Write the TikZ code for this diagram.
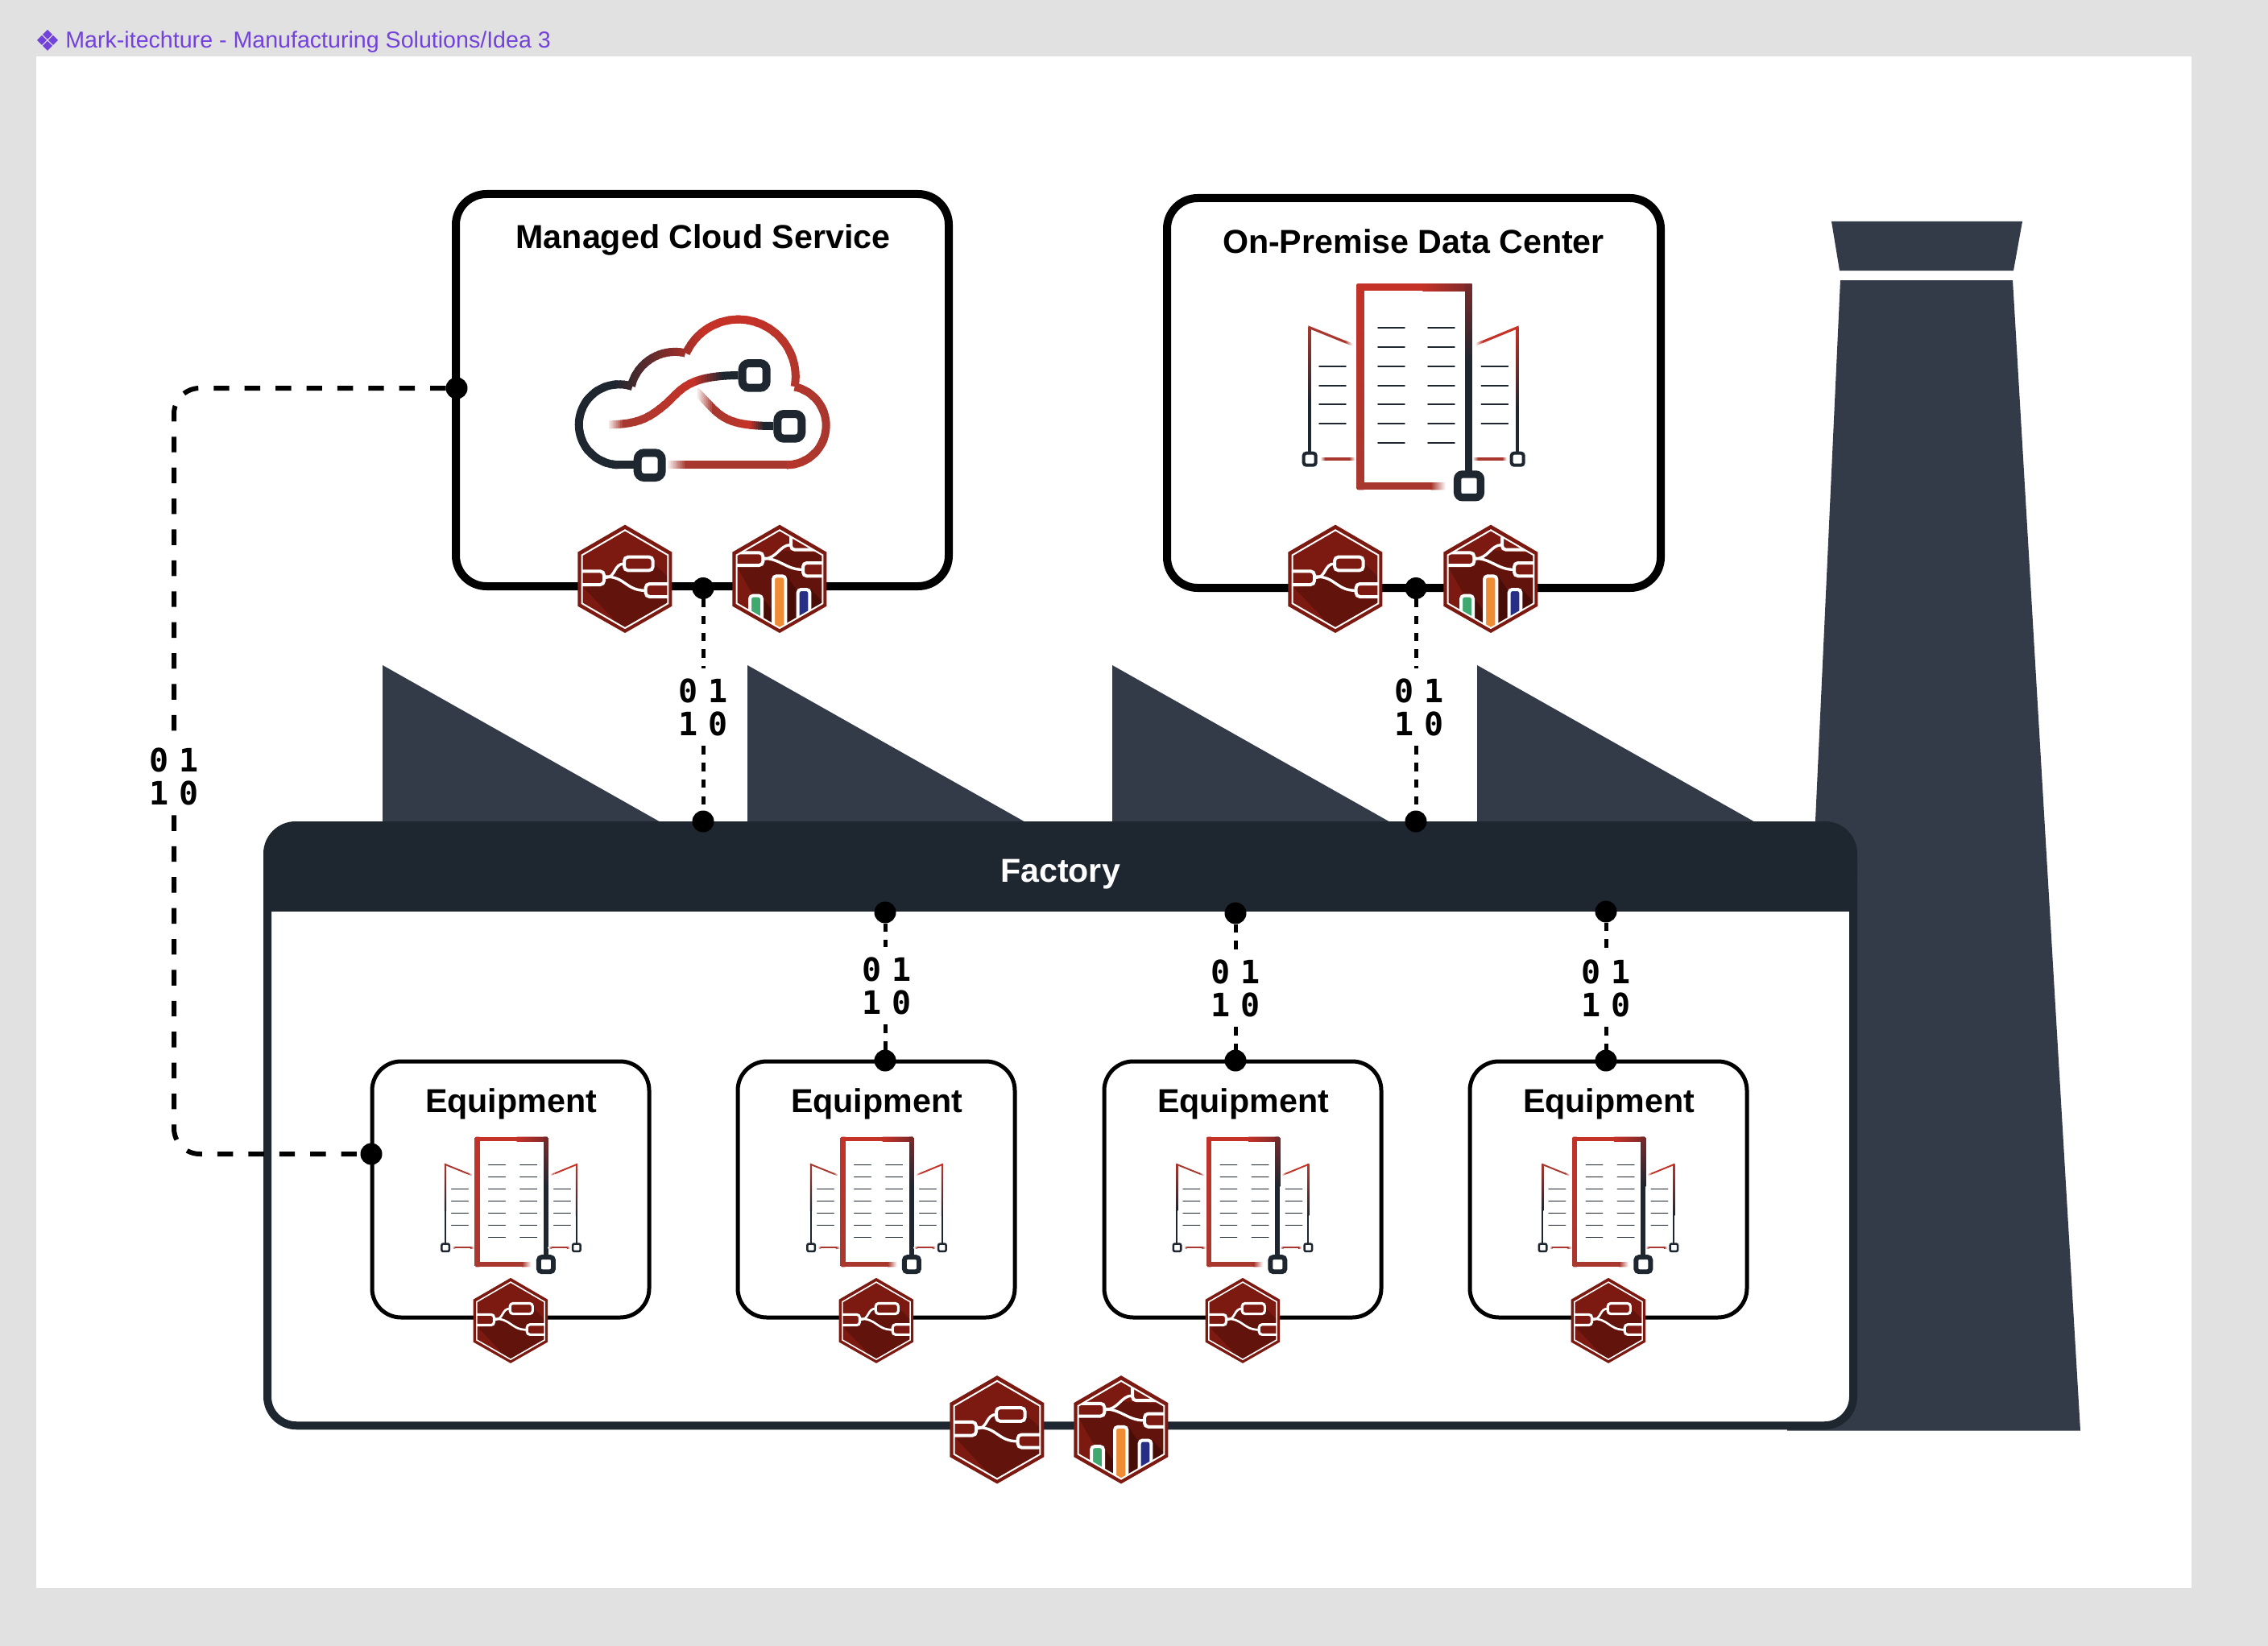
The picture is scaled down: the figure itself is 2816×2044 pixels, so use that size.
\documentclass[tikz,border=0pt]{standalone}
\usepackage{fontspec}
\setmainfont{Liberation Sans}
\newfontfamily\bitfont{DejaVu Sans Mono}[WordSpace=0.57]
\usetikzlibrary{positioning,calc}

\definecolor{canvasgrey}{HTML}{E1E1E1}
\definecolor{titlepurple}{HTML}{7342DB}
\definecolor{slate}{HTML}{333A48}
\definecolor{ink}{HTML}{1E2630}
\definecolor{iconred}{HTML}{C43228}
\definecolor{iconbrick}{HTML}{A8382F}
\definecolor{iconmaroon}{HTML}{7A2A2B}
\definecolor{hexred}{HTML}{7C1A11}
\definecolor{hexdark}{HTML}{62130C}
\definecolor{hexdeep}{HTML}{470D06}
\definecolor{bargreen}{HTML}{3FA96F}
\definecolor{barorange}{HTML}{EE8D35}
\definecolor{barblue}{HTML}{262E85}

\tikzset{
  box/.style={draw=black, fill=white, inner sep=0pt, outer sep=0pt},
  bigbox/.style={box, line width=5pt, rounded corners=19pt},
  smallbox/.style={box, line width=2.5pt, rounded corners=18pt, minimum width=172pt, minimum height=159pt},
  title/.style={font=\fontsize{20.6pt}{24pt}\selectfont\bfseries, inner sep=0pt},
  bits/.style={font=\fontsize{20pt}{20.5pt}\selectfont\bitfont\bfseries, align=center, inner sep=0pt, minimum height=48pt},
  dot/.style={circle, fill=black, inner sep=0pt, minimum size=13.5pt, outer sep=0pt},
  wire/.style={draw=black, line width=2.5pt, dash pattern=on 5.2pt off 5.2pt},
  longwire/.style={draw=black, line width=3pt, dash pattern=on 9.7pt off 9.5pt, rounded corners=16pt},
}

% server icon, coordinates in 1/3 px from its top left corner
\newcommand\servericon[3]{%
\begin{scope}[shift={(#1,#2)}, x=#3*0.16667pt, y=-#3*0.16667pt]
  \begin{scope}
    \clip[rounded corners=#3*1.3pt] (252,36) rectangle (686,805);
    \shade[top color=iconred, bottom color=iconbrick] (252,36) rectangle (280,805);
    \fill[iconred] (252,36) rectangle (500,64);
    \shade[left color=iconred, right color=iconmaroon] (499,36) rectangle (686,64);
    \shade[top color=iconmaroon, bottom color=ink] (658,36) rectangle (686,331);
    \fill[ink] (658,330) rectangle (686,760);
    \fill[iconbrick] (279,777) rectangle (531,805);
    \shade[left color=iconbrick, right color=white] (530,777) rectangle (585,805);
  \end{scope}
  \shade[top color=iconbrick, bottom color=ink] (73,198) rectangle (83,471);
  \fill[ink] (73,470) rectangle (83,670);
  \shade[top color=iconred, bottom color=ink] (847,198) rectangle (857,501);
  \fill[ink] (847,500) rectangle (857,670);
  \fill[iconbrick] (73,193) -- (211,249) -- (211,259) -- (73,203) -- cycle;
  \shade[left color=iconbrick, right color=white] (210,248) -- (237,259) -- (237,269) -- (210,258) -- cycle;
  \fill[iconred] (857,193) -- (721,249) -- (721,259) -- (857,203) -- cycle;
  \shade[left color=white, right color=iconred] (695,259) -- (722,248) -- (722,258) -- (695,269) -- cycle;
  \shade[left color=white, right color=iconbrick] (118,685) rectangle (136,695);
  \fill[iconbrick] (135,685) rectangle (226,695);
  \shade[left color=iconbrick, right color=white] (225,685) rectangle (247,695);
  \shade[left color=white, right color=iconbrick] (685,685) rectangle (706,695);
  \fill[iconbrick] (705,685) rectangle (796,695);
  \shade[left color=iconbrick, right color=white] (795,685) rectangle (812,695);
  \foreach \yy in {201,273,345,416,487,558,629} {
    \draw[ink, line width=#3*0.85pt, line cap=round] (333,\yy) -- (432,\yy) (519,\yy) -- (618,\yy);
  }
  \foreach \yy in {345,416,487,558} {
    \draw[ink, line width=#3*0.85pt, line cap=round] (114,\yy) -- (213,\yy) (718,\yy) -- (817,\yy);
  }
  \draw[ink, fill=white, line width=#3*2pt, rounded corners=#3*1.6pt] (56,668) rectangle (101,713);
  \draw[ink, fill=white, line width=#3*2pt, rounded corners=#3*1.6pt] (830,668) rectangle (875,713);
  \draw[ink, fill=white, line width=#3*4.7pt, rounded corners=#3*3pt] (629,747) rectangle (715,833);
\end{scope}}

% hexagon outline shared by both badges, coordinates in 1/3 px from its centre
\newcommand\hexouter{(0,-202) -- (175,-100) -- (175,101) -- (0,201) -- (-176,101) -- (-176,-100) -- cycle}
\newcommand\hexinner{(0,-182) -- (160,-89) -- (160,91) -- (0,183) -- (-160,91) -- (-160,-89) -- cycle}

\newcommand\hexflow[3]{%
\begin{scope}[shift={(#1,#2)}, x=#3*0.16667pt, y=-#3*0.16667pt]
  \fill[hexred] \hexouter;
  \begin{scope}
    \clip \hexinner;
    \fill[hexdark] (-78,3) -- (-58,-17) -- (-3,-62) -- (104,-62) -- (160,-7) -- (160,91) -- (0,183) -- (-23,170) -- (-153,33) -- (-78,20) -- cycle;
    \draw[white, line width=#3*1.7pt] (-73,-5) .. controls (-33,-5) and (-43,-57) .. (-3,-57);
    \draw[white, line width=#3*1.7pt] (-73,-9) .. controls (2,-9) and (2,43) .. (77,43);
    \draw[white, fill=hexred, line width=#3*2pt, rounded corners=#3*2.4pt] (-175,-29) rectangle (-78,21);
    \draw[white, fill=hexred, line width=#3*2pt, rounded corners=#3*2.4pt] (-3,-82) rectangle (104,-32);
    \draw[white, fill=hexred, line width=#3*2pt, rounded corners=#3*2.4pt] (77,18) rectangle (175,66);
  \end{scope}
  \draw[white, line width=#3*1pt] \hexinner;
\end{scope}}

\newcommand\hexdash[3]{%
\begin{scope}[shift={(#1,#2)}, x=#3*0.16667pt, y=-#3*0.16667pt]
  \fill[hexred] \hexouter;
  \begin{scope}
    \clip \hexinner;
    \fill[hexdark] (-160,-47) -- (-60,-47) -- (-55,-67) -- (0,-107) -- (160,-95) -- (160,91) -- (0,183) -- (-40,163) -- cycle;
    \fill[hexdeep] (-60,75) -- (-30,115) -- (-30,175) -- (-60,160) -- cycle;
    \fill[hexdeep] (28,-10) -- (62,40) -- (62,155) -- (28,180) -- cycle;
    \fill[hexdeep] (118,40) -- (165,92) -- (118,120) -- cycle;
    \draw[white, line width=#3*1.7pt] (-60,-75) .. controls (-10,-75) and (0,-127) .. (40,-127);
    \draw[white, line width=#3*1.7pt] (-60,-77) .. controls (0,-77) and (25,-35) .. (85,-35);
    \draw[white, fill=hexred, line width=#3*2pt, rounded corners=#3*2.4pt] (-175,-98) rectangle (-62,-51);
    \draw[white, fill=hexred, line width=#3*2pt, rounded corners=#3*2.4pt] (42,-170) rectangle (175,-109);
    \draw[white, fill=hexred, line width=#3*2pt, rounded corners=#3*2.4pt] (87,-60) rectangle (175,-11);
    \draw[white, fill=bargreen, line width=#3*2pt, rounded corners=#3*2pt] (-111,62) rectangle (-66,220);
    \draw[white, fill=barorange, line width=#3*2pt, rounded corners=#3*2pt] (-24,-11) rectangle (22,220);
    \draw[white, fill=barblue, line width=#3*2pt, rounded corners=#3*2pt] (68,39) rectangle (112,220);
  \end{scope}
  \draw[white, line width=#3*1pt] \hexinner;
\end{scope}}

% stroke whose colour runs left to right, built from clipped bands
\newcommand\bandstroke[6]{%
  \foreach \ii in {0,...,#3} {
    \pgfmathsetmacro\mixp{100*\ii/#3}
    \pgfmathsetmacro\bandl{#1+(#2-#1)*\ii/(#3+1)}
    \pgfmathsetmacro\bandr{#1+(#2-#1)*(\ii+1.4)/(#3+1)}
    \colorlet{bandcol}{#5!\mixp!#4}
    \begin{scope}
      \clip (\bandl,0) rectangle (\bandr,1000);
      \draw[bandcol, line width=5pt, line cap=butt] #6;
    \end{scope}
  }}

\newcommand\cloudline{(950,742) arc[start angle=90, end angle=-78, radius=147]
  (980,450) arc[start angle=10, end angle=-156, radius=213]
  (572,325) arc[start angle=-77, end angle=-166, radius=168]
  (375,450) arc[start angle=-71, end angle=-270, radius=150]}
\newcommand\flowA{(280,592) .. controls (400,592) and (440,565) .. (500,515) .. controls (560,460) and (580,410) .. (770,408)}
\newcommand\flowB{(610,465) .. controls (700,550) and (700,597) .. (900,597)}

\begin{document}
\begin{tikzpicture}[x=0.5pt, y=-0.5pt]
  \useasboundingbox (0,0) rectangle (2816,2044);
  \fill[canvasgrey] (0,0) rectangle (2816,2044);
  \fill[white] (45,70) rectangle (2721,1972);

  % Header
  \node[anchor=west, inner sep=0pt, text=titlepurple, font=\fontsize{14.3pt}{17pt}\selectfont] (frametitle) at (81,52) {Mark-itechture - Manufacturing Solutions/Idea 3};
  \foreach \dx/\dy in {-7/0,7/0,0/-7,0/7} {
    \fill[titlepurple] ($(59,50)+(\dx,\dy)$) ++(-6,0) -- ++(6,-6) -- ++(6,6) -- ++(-6,6) -- cycle;
  }

  % Factory building
  \fill[slate] (2274,275) -- (2511,275) -- (2500,336) -- (2284,336) -- cycle;
  \fill[slate] (2285,348) -- (2499,348) -- (2583,1776.5) -- (2219,1776.5) -- cycle;
  \foreach \xx in {475,928,1381,1834} {
    \fill[slate] (\xx,826) -- (\xx,1022) -- ($(\xx,1022)+(347,0)$) -- cycle;
  }
  \node[draw=ink, fill=white, line width=5pt, rounded corners=18pt, minimum width=984.5pt, minimum height=365pt, inner sep=0pt, outer sep=0pt] (factory) at (1316.5,1405.25) {};
  \fill[ink, rounded corners=20pt] (327,1131) -- (327,1020) -- (2306,1020) -- (2306,1131) -- cycle;
  \fill[ink] (327,1100) rectangle (2306,1131.5);
  \node[title, text=white] (factorylabel) at (1316.5,1086) {Factory};

  % Upper boxes
  \node[bigbox, minimum width=306pt, minimum height=243.5pt] (cloudbox) at (872,484.5) {};
  \node[bigbox, minimum width=306.5pt, minimum height=242pt] (onprembox) at (1755.5,488) {};
  \node[title] (cloudlabel) at (873,298) {Managed Cloud Service};
  \node[title] (onpremlabel) at (1755,300) {On-Premise Data Center};

  % Equipment boxes
  \foreach \nn/\xx in {1/634,2/1088,3/1543,4/1997} {
    \node[smallbox] (eq\nn) at (\xx,1477) {};
    \node[title] (eqlabel\nn) at (\xx+0.5,1371) {Equipment};
  }

  % Connection points
  \node[dot] (cloudleft) at (567,482) {};
  \node[dot] (cloudbottom) at (873,730.5) {};
  \node[dot] (onprembottom) at (1758,730.5) {};
  \node[dot] (factorya) at (873,1020) {};
  \node[dot] (factoryb) at (1758,1020) {};
  \node[dot] (inner2) at (1099,1133) {};
  \node[dot] (inner3) at (1534,1134) {};
  \node[dot] (inner4) at (1994,1132) {};
  \node[dot] (eqtop2) at (1099,1317) {};
  \node[dot] (eqtop3) at (1534,1317) {};
  \node[dot] (eqtop4) at (1994,1317) {};
  \node[dot] (eqleft) at (461,1433) {};

  % Bit labels
  \node[bits] (bitsa) at (873,878) {0 1\\1 0};
  \node[bits] (bitsb) at (1762,878) {0 1\\1 0};
  \node[bits] (bitsc) at (1101,1224) {0 1\\1 0};
  \node[bits] (bitsd) at (1534,1227) {0 1\\1 0};
  \node[bits] (bitse) at (1994,1227) {0 1\\1 0};
  \node[bits] (bitsf) at (216,964) {0 1\\1 0};

  % Connectors
  \draw[wire] (cloudbottom) -- (bitsa);
  \draw[wire] (bitsa) -- (factorya);
  \draw[wire] (onprembottom) -- (onprembottom |- bitsb.north);
  \draw[wire] (onprembottom |- bitsb.south) -- (factoryb);
  \draw[wire] (inner2) -- (inner2 |- bitsc.north);
  \draw[wire] (inner2 |- bitsc.south) -- (eqtop2);
  \draw[wire] (inner3) -- (bitsd);
  \draw[wire] (bitsd) -- (eqtop3);
  \draw[wire] (inner4) -- (bitse);
  \draw[wire] (bitse) -- (eqtop4);
  \coordinate (bendtop) at (216,482);
  \coordinate (bendbottom) at (216,1433);
  \draw[longwire] (cloudleft) -- (bendtop) -- (bitsf.north);
  \draw[longwire] (bitsf.south) -- (bendbottom) -- (eqleft);

  % Cloud icon
  \begin{scope}[shift={(660,330)}, x=0.16667pt, y=-0.16667pt]
    \bandstroke{150}{300}{3}{ink}{ink}{\cloudline}
    \bandstroke{300}{650}{24}{ink}{iconred}{\cloudline}
    \bandstroke{650}{800}{3}{iconred}{iconred}{\cloudline}
    \bandstroke{800}{1120}{10}{iconred}{iconbrick}{\cloudline}
    \draw[ink, line width=5pt] (320,742) -- (440,742);
    \draw[iconbrick, line width=5pt] (575,742) -- (952,742);
    \bandstroke{500}{580}{8}{white}{iconbrick}{(500,742) -- (590,742)}
    \bandstroke{280}{345}{8}{white}{iconbrick}{\flowA}
    \bandstroke{345}{600}{12}{iconbrick}{iconred}{\flowA}
    \bandstroke{600}{720}{10}{iconred}{ink}{\flowA}
    \bandstroke{720}{775}{1}{ink}{ink}{\flowA}
    \bandstroke{610}{680}{8}{white}{iconbrick}{\flowB}
    \bandstroke{680}{810}{8}{iconbrick}{iconred}{\flowB}
    \bandstroke{810}{870}{6}{iconred}{ink}{\flowB}
    \bandstroke{870}{905}{1}{ink}{ink}{\flowB}
    \draw[ink, fill=white, line width=5pt, rounded corners=4pt] (395,697) rectangle (485,789);
    \draw[ink, fill=white, line width=5pt, rounded corners=4pt] (785,363) rectangle (875,455);
    \draw[ink, fill=white, line width=5pt, rounded corners=4pt] (916,552) rectangle (1006,644);
  \end{scope}

  % Server icons
  \servericon{1600}{340}{1}
  \foreach \xx in {536.6,990.6,1445,1899} {
    \servericon{\xx}{1404}{0.631}
  }

  % Node-RED badges
  \hexflow{776}{719}{1}
  \hexdash{968}{719}{1}
  \hexflow{1658}{719}{1}
  \hexdash{1851}{719}{1}
  \hexflow{1238}{1775.5}{1}
  \hexdash{1392}{1775.5}{1}
  \foreach \xx in {634,1088,1543,1997} {
    \hexflow{\xx}{1640}{0.789}
  }
\end{tikzpicture}
\end{document}
